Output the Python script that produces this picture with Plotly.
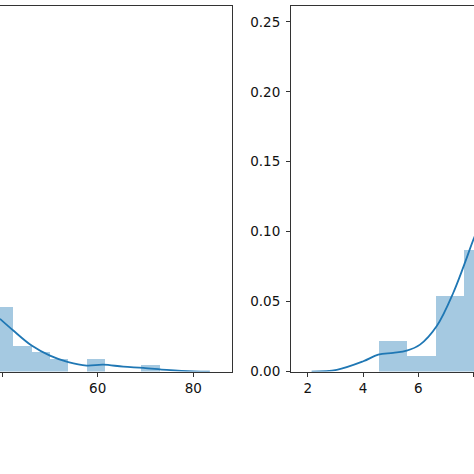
import plotly.graph_objects as go

# ---- Left panel data ----
left_bin_edges = [38.53, 42.36, 46.19, 50.02, 53.85, 57.68, 61.51, 65.34, 69.17, 73.00]
left_density = [0.0290, 0.0116, 0.0087, 0.0058, 0.0, 0.0058, 0.0, 0.0, 0.0029]
left_kde_x = [39.58, 42.36, 46.2, 50.03, 53.86, 57.7, 61.17, 65.35, 69.53, 74.42, 80.0, 83.47]
left_kde_y = [0.0235, 0.0183, 0.0116, 0.0071, 0.0042, 0.0027, 0.0031, 0.0022, 0.0017, 0.0008, 0.0001, 0.0]
left_xticks = [40, 60, 80]

# ---- Right panel data ----
right_bin_edges = [4.56, 5.59, 6.62, 7.65, 8.68]
right_density = [0.0217, 0.0109, 0.0543, 0.0869]
right_kde_x = [2.14, 3.05, 4.01, 4.55, 5.09, 5.58, 6.06, 6.66, 7.26, 7.99, 8.2]
right_kde_y = [0.0, 0.0013, 0.0074, 0.0121, 0.0134, 0.015, 0.0193, 0.0324, 0.0562, 0.0943, 0.105]
right_xticks = [2, 4, 6, 8]
right_yticks = [0.00, 0.05, 0.10, 0.15, 0.20, 0.25]

BAR = "rgba(31,119,180,0.4)"
LINE = "#1f77b4"
SPINE = "#333333"

def centers(edges):
    return [(a + b) / 2 for a, b in zip(edges[:-1], edges[1:])]

def widths(edges):
    return [b - a for a, b in zip(edges[:-1], edges[1:])]

fig = go.Figure()
fig.add_trace(go.Bar(x=centers(left_bin_edges), y=left_density, width=widths(left_bin_edges),
                     marker=dict(color=BAR, line=dict(width=0)), xaxis="x", yaxis="y",
                     showlegend=False))
fig.add_trace(go.Scatter(x=left_kde_x, y=left_kde_y, mode="lines",
                         line=dict(color=LINE, width=1.8, shape="spline", smoothing=1.0),
                         xaxis="x", yaxis="y", showlegend=False))
fig.add_trace(go.Bar(x=centers(right_bin_edges), y=right_density, width=widths(right_bin_edges),
                     marker=dict(color=BAR, line=dict(width=0)), xaxis="x2", yaxis="y2",
                     showlegend=False))
fig.add_trace(go.Scatter(x=right_kde_x, y=right_kde_y, mode="lines",
                         line=dict(color=LINE, width=1.8, shape="spline", smoothing=1.0),
                         xaxis="x2", yaxis="y2", showlegend=False))

font = dict(family="DejaVu Sans", size=13.5, color="#111111")
ybot = (474 - 378) / 474
ytop = (474 - 6) / 474

fig.update_layout(
    width=474, height=474, autosize=False,
    margin=dict(l=0, r=0, t=0, b=0),
    paper_bgcolor="white", plot_bgcolor="white",
    bargap=0, font=font,
    xaxis=dict(domain=[0, 232 / 474], range=[39.58, 88.1], tickvals=left_xticks,
               ticks="outside", ticklen=4, tickwidth=1, tickcolor=SPINE,
               showline=True, linecolor=SPINE, linewidth=1, mirror=True,
               showgrid=False, zeroline=False, tickfont=font),
    yaxis=dict(domain=[ybot, ytop], range=[0, 0.1629], side="right",
               showticklabels=False, ticks="", showline=True, linecolor=SPINE,
               linewidth=1, showgrid=False, zeroline=False),
    xaxis2=dict(domain=[291 / 474, 1], range=[1.396, 8.012], tickvals=right_xticks,
                anchor="y2", ticks="outside", ticklen=4, tickwidth=1, tickcolor=SPINE,
                showline=True, linecolor=SPINE, linewidth=1, mirror=True,
                showgrid=False, zeroline=False, tickfont=font),
    yaxis2=dict(domain=[ybot, ytop], range=[0, 0.2614], anchor="x2",
                tickvals=right_yticks, tickformat=".2f", ticklabelstandoff=3,
                ticks="outside", ticklen=4, tickwidth=1, tickcolor=SPINE,
                showline=True, linecolor=SPINE, linewidth=1,
                showgrid=False, zeroline=False, tickfont=font),
)

fig.write_html("out.html",
               config={"displayModeBar": False, "responsive": False},
               post_script="document.body.style.margin='0';document.body.style.overflow='hidden';")
